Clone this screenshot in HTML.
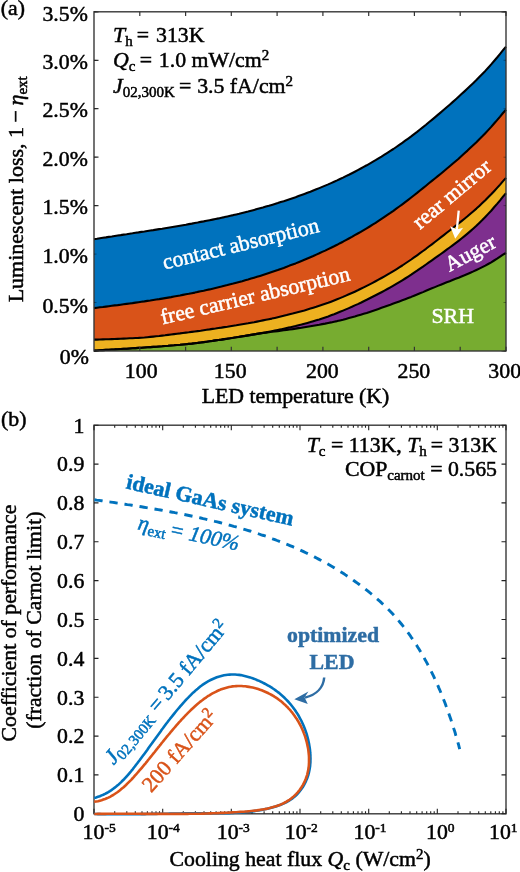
<!DOCTYPE html>
<html><head><meta charset="utf-8"><title>figure</title><style>html,body{margin:0;padding:0;background:#fff}svg{display:block}text{fill:#000;stroke:#000;stroke-width:.5px}text.w{fill:#fff;stroke:#fff}text.bl{fill:#0072BD;stroke:#0072BD}text.og{fill:#D95319;stroke:#D95319}text.sb{fill:#2E6DA4;stroke:#2E6DA4}</style></head><body>
<svg width="520" height="872" viewBox="0 0 520 872" font-family="'Liberation Serif', serif" font-size="21.8">
<rect width="520" height="872" fill="#fff"/>
<path d="M94.0,351.0h4.5 M506.0,351.0h-4.5 M94.0,302.5h4.5 M506.0,302.5h-4.5 M94.0,254.1h4.5 M506.0,254.1h-4.5 M94.0,205.6h4.5 M506.0,205.6h-4.5 M94.0,157.2h4.5 M506.0,157.2h-4.5 M94.0,108.7h4.5 M506.0,108.7h-4.5 M94.0,60.3h4.5 M506.0,60.3h-4.5 M94.0,11.8h4.5 M506.0,11.8h-4.5" stroke="#333" stroke-width="1.2" fill="none"/>
<path d="M94.0,239.2 L97.0,238.8 L99.9,238.3 L102.9,237.8 L105.9,237.4 L108.8,236.9 L111.8,236.5 L114.7,236.0 L117.7,235.5 L120.7,235.1 L123.6,234.6 L126.6,234.2 L129.6,233.7 L132.5,233.3 L135.5,232.8 L138.5,232.4 L141.4,231.9 L144.4,231.5 L147.4,231.0 L150.3,230.5 L153.3,230.1 L156.2,229.6 L159.2,229.1 L162.2,228.7 L165.1,228.2 L168.1,227.7 L171.1,227.2 L174.0,226.7 L177.0,226.2 L180.0,225.7 L182.9,225.2 L185.9,224.7 L188.8,224.1 L191.8,223.6 L194.8,223.0 L197.7,222.5 L200.7,221.9 L203.7,221.4 L206.6,220.8 L209.6,220.2 L212.6,219.6 L215.5,219.0 L218.5,218.4 L221.5,217.7 L224.4,217.1 L227.4,216.4 L230.3,215.7 L233.3,215.1 L236.3,214.4 L239.2,213.7 L242.2,212.9 L245.2,212.2 L248.1,211.5 L251.1,210.7 L254.1,209.9 L257.0,209.1 L260.0,208.3 L262.9,207.5 L265.9,206.6 L268.9,205.8 L271.8,204.9 L274.8,204.0 L277.8,203.1 L280.7,202.1 L283.7,201.2 L286.7,200.2 L289.6,199.2 L292.6,198.2 L295.6,197.2 L298.5,196.1 L301.5,195.0 L304.4,193.9 L307.4,192.8 L310.4,191.7 L313.3,190.5 L316.3,189.3 L319.3,188.1 L322.2,186.9 L325.2,185.6 L328.2,184.4 L331.1,183.1 L334.1,181.7 L337.1,180.4 L340.0,179.0 L343.0,177.6 L345.9,176.1 L348.9,174.7 L351.9,173.2 L354.8,171.7 L357.8,170.1 L360.8,168.5 L363.7,166.9 L366.7,165.3 L369.7,163.6 L372.6,161.9 L375.6,160.2 L378.5,158.4 L381.5,156.6 L384.5,154.7 L387.4,152.8 L390.4,150.9 L393.4,149.0 L396.3,147.0 L399.3,144.9 L402.3,142.8 L405.2,140.7 L408.2,138.6 L411.2,136.4 L414.1,134.1 L417.1,131.9 L420.0,129.5 L423.0,127.2 L426.0,124.8 L428.9,122.3 L431.9,119.9 L434.9,117.4 L437.8,114.9 L440.8,112.4 L443.8,109.8 L446.7,107.3 L449.7,104.7 L452.6,102.1 L455.6,99.5 L458.6,96.8 L461.5,94.1 L464.5,91.4 L467.5,88.6 L470.4,85.8 L473.4,83.0 L476.4,80.1 L479.3,77.1 L482.3,74.0 L485.3,70.9 L488.2,67.7 L491.2,64.4 L494.1,61.0 L497.1,57.5 L500.1,53.8 L503.0,50.1 L506.0,46.7 L506.0,109.7 L503.0,113.0 L500.1,116.6 L497.1,120.1 L494.1,123.5 L491.2,126.9 L488.2,130.1 L485.3,133.2 L482.3,136.3 L479.3,139.2 L476.4,142.2 L473.4,145.0 L470.4,147.8 L467.5,150.6 L464.5,153.3 L461.5,156.0 L458.6,158.7 L455.6,161.2 L452.6,163.8 L449.7,166.3 L446.7,168.8 L443.8,171.2 L440.8,173.7 L437.8,176.1 L434.9,178.5 L431.9,180.9 L428.9,183.3 L426.0,185.7 L423.0,188.1 L420.0,190.5 L417.1,192.9 L414.1,195.2 L411.2,197.5 L408.2,199.8 L405.2,202.1 L402.3,204.3 L399.3,206.5 L396.3,208.6 L393.4,210.8 L390.4,212.9 L387.4,214.9 L384.5,216.9 L381.5,218.9 L378.5,220.9 L375.6,222.8 L372.6,224.6 L369.7,226.5 L366.7,228.3 L363.7,230.1 L360.8,231.8 L357.8,233.5 L354.8,235.2 L351.9,236.9 L348.9,238.5 L345.9,240.1 L343.0,241.7 L340.0,243.2 L337.1,244.8 L334.1,246.3 L331.1,247.7 L328.2,249.1 L325.2,250.6 L322.2,251.9 L319.3,253.3 L316.3,254.6 L313.3,256.0 L310.4,257.2 L307.4,258.5 L304.4,259.8 L301.5,261.0 L298.5,262.2 L295.6,263.4 L292.6,264.5 L289.6,265.6 L286.7,266.8 L283.7,267.9 L280.7,268.9 L277.8,270.0 L274.8,271.0 L271.8,272.0 L268.9,273.0 L265.9,274.0 L262.9,275.0 L260.0,275.9 L257.0,276.8 L254.1,277.7 L251.1,278.6 L248.1,279.5 L245.2,280.3 L242.2,281.2 L239.2,282.0 L236.3,282.8 L233.3,283.6 L230.3,284.3 L227.4,285.1 L224.4,285.8 L221.5,286.6 L218.5,287.3 L215.5,288.0 L212.6,288.7 L209.6,289.4 L206.6,290.0 L203.7,290.7 L200.7,291.3 L197.7,291.9 L194.8,292.6 L191.8,293.2 L188.8,293.8 L185.9,294.3 L182.9,294.9 L180.0,295.5 L177.0,296.0 L174.0,296.5 L171.1,297.1 L168.1,297.6 L165.1,298.1 L162.2,298.6 L159.2,299.1 L156.2,299.5 L153.3,300.0 L150.3,300.5 L147.4,300.9 L144.4,301.4 L141.4,301.8 L138.5,302.2 L135.5,302.6 L132.5,303.1 L129.6,303.5 L126.6,303.9 L123.6,304.3 L120.7,304.7 L117.7,305.1 L114.7,305.4 L111.8,305.8 L108.8,306.2 L105.9,306.6 L102.9,307.0 L99.9,307.3 L97.0,307.7 L94.0,308.1Z" fill="#0072BD"/>
<path d="M94.0,308.1 L97.0,307.7 L99.9,307.3 L102.9,307.0 L105.9,306.6 L108.8,306.2 L111.8,305.8 L114.7,305.4 L117.7,305.1 L120.7,304.7 L123.6,304.3 L126.6,303.9 L129.6,303.5 L132.5,303.1 L135.5,302.6 L138.5,302.2 L141.4,301.8 L144.4,301.4 L147.4,300.9 L150.3,300.5 L153.3,300.0 L156.2,299.5 L159.2,299.1 L162.2,298.6 L165.1,298.1 L168.1,297.6 L171.1,297.1 L174.0,296.5 L177.0,296.0 L180.0,295.5 L182.9,294.9 L185.9,294.3 L188.8,293.8 L191.8,293.2 L194.8,292.6 L197.7,291.9 L200.7,291.3 L203.7,290.7 L206.6,290.0 L209.6,289.4 L212.6,288.7 L215.5,288.0 L218.5,287.3 L221.5,286.6 L224.4,285.8 L227.4,285.1 L230.3,284.3 L233.3,283.6 L236.3,282.8 L239.2,282.0 L242.2,281.2 L245.2,280.3 L248.1,279.5 L251.1,278.6 L254.1,277.7 L257.0,276.8 L260.0,275.9 L262.9,275.0 L265.9,274.0 L268.9,273.0 L271.8,272.0 L274.8,271.0 L277.8,270.0 L280.7,268.9 L283.7,267.9 L286.7,266.8 L289.6,265.6 L292.6,264.5 L295.6,263.4 L298.5,262.2 L301.5,261.0 L304.4,259.8 L307.4,258.5 L310.4,257.2 L313.3,256.0 L316.3,254.6 L319.3,253.3 L322.2,251.9 L325.2,250.6 L328.2,249.1 L331.1,247.7 L334.1,246.3 L337.1,244.8 L340.0,243.2 L343.0,241.7 L345.9,240.1 L348.9,238.5 L351.9,236.9 L354.8,235.2 L357.8,233.5 L360.8,231.8 L363.7,230.1 L366.7,228.3 L369.7,226.5 L372.6,224.6 L375.6,222.8 L378.5,220.9 L381.5,218.9 L384.5,216.9 L387.4,214.9 L390.4,212.9 L393.4,210.8 L396.3,208.6 L399.3,206.5 L402.3,204.3 L405.2,202.1 L408.2,199.8 L411.2,197.5 L414.1,195.2 L417.1,192.9 L420.0,190.5 L423.0,188.1 L426.0,185.7 L428.9,183.3 L431.9,180.9 L434.9,178.5 L437.8,176.1 L440.8,173.7 L443.8,171.2 L446.7,168.8 L449.7,166.3 L452.6,163.8 L455.6,161.2 L458.6,158.7 L461.5,156.0 L464.5,153.3 L467.5,150.6 L470.4,147.8 L473.4,145.0 L476.4,142.2 L479.3,139.2 L482.3,136.3 L485.3,133.2 L488.2,130.1 L491.2,126.9 L494.1,123.5 L497.1,120.1 L500.1,116.6 L503.0,113.0 L506.0,109.7 L506.0,177.9 L503.0,181.1 L500.1,184.6 L497.1,187.9 L494.1,191.2 L491.2,194.3 L488.2,197.3 L485.3,200.3 L482.3,203.1 L479.3,205.9 L476.4,208.6 L473.4,211.2 L470.4,213.8 L467.5,216.3 L464.5,218.7 L461.5,221.1 L458.6,223.5 L455.6,225.8 L452.6,228.2 L449.7,230.5 L446.7,232.8 L443.8,235.1 L440.8,237.4 L437.8,239.7 L434.9,242.0 L431.9,244.3 L428.9,246.5 L426.0,248.8 L423.0,251.0 L420.0,253.2 L417.1,255.3 L414.1,257.4 L411.2,259.5 L408.2,261.5 L405.2,263.5 L402.3,265.5 L399.3,267.4 L396.3,269.3 L393.4,271.1 L390.4,272.9 L387.4,274.6 L384.5,276.3 L381.5,278.0 L378.5,279.7 L375.6,281.3 L372.6,282.9 L369.7,284.4 L366.7,285.9 L363.7,287.4 L360.8,288.8 L357.8,290.3 L354.8,291.7 L351.9,293.0 L348.9,294.3 L345.9,295.6 L343.0,296.9 L340.0,298.1 L337.1,299.3 L334.1,300.5 L331.1,301.7 L328.2,302.8 L325.2,303.8 L322.2,304.8 L319.3,305.8 L316.3,306.8 L313.3,307.7 L310.4,308.6 L307.4,309.5 L304.4,310.4 L301.5,311.2 L298.5,312.0 L295.6,312.8 L292.6,313.6 L289.6,314.3 L286.7,315.1 L283.7,315.8 L280.7,316.5 L277.8,317.2 L274.8,317.9 L271.8,318.6 L268.9,319.2 L265.9,319.8 L262.9,320.4 L260.0,321.0 L257.0,321.6 L254.1,322.2 L251.1,322.7 L248.1,323.3 L245.2,323.8 L242.2,324.3 L239.2,324.8 L236.3,325.3 L233.3,325.7 L230.3,326.2 L227.4,326.7 L224.4,327.1 L221.5,327.6 L218.5,328.0 L215.5,328.5 L212.6,328.9 L209.6,329.4 L206.6,329.8 L203.7,330.2 L200.7,330.7 L197.7,331.1 L194.8,331.5 L191.8,331.9 L188.8,332.3 L185.9,332.6 L182.9,333.0 L180.0,333.4 L177.0,333.7 L174.0,334.1 L171.1,334.5 L168.1,334.9 L165.1,335.3 L162.2,335.6 L159.2,336.0 L156.2,336.3 L153.3,336.6 L150.3,336.9 L147.4,337.2 L144.4,337.5 L141.4,337.7 L138.5,337.9 L135.5,338.0 L132.5,338.2 L129.6,338.3 L126.6,338.5 L123.6,338.6 L120.7,338.8 L117.7,338.9 L114.7,339.0 L111.8,339.1 L108.8,339.2 L105.9,339.3 L102.9,339.4 L99.9,339.5 L97.0,339.6 L94.0,339.6Z" fill="#D95319"/>
<path d="M94.0,339.6 L97.0,339.6 L99.9,339.5 L102.9,339.4 L105.9,339.3 L108.8,339.2 L111.8,339.1 L114.7,339.0 L117.7,338.9 L120.7,338.8 L123.6,338.6 L126.6,338.5 L129.6,338.3 L132.5,338.2 L135.5,338.0 L138.5,337.9 L141.4,337.7 L144.4,337.5 L147.4,337.2 L150.3,336.9 L153.3,336.6 L156.2,336.3 L159.2,336.0 L162.2,335.6 L165.1,335.3 L168.1,334.9 L171.1,334.5 L174.0,334.1 L177.0,333.7 L180.0,333.4 L182.9,333.0 L185.9,332.6 L188.8,332.3 L191.8,331.9 L194.8,331.5 L197.7,331.1 L200.7,330.7 L203.7,330.2 L206.6,329.8 L209.6,329.4 L212.6,328.9 L215.5,328.5 L218.5,328.0 L221.5,327.6 L224.4,327.1 L227.4,326.7 L230.3,326.2 L233.3,325.7 L236.3,325.3 L239.2,324.8 L242.2,324.3 L245.2,323.8 L248.1,323.3 L251.1,322.7 L254.1,322.2 L257.0,321.6 L260.0,321.0 L262.9,320.4 L265.9,319.8 L268.9,319.2 L271.8,318.6 L274.8,317.9 L277.8,317.2 L280.7,316.5 L283.7,315.8 L286.7,315.1 L289.6,314.3 L292.6,313.6 L295.6,312.8 L298.5,312.0 L301.5,311.2 L304.4,310.4 L307.4,309.5 L310.4,308.6 L313.3,307.7 L316.3,306.8 L319.3,305.8 L322.2,304.8 L325.2,303.8 L328.2,302.8 L331.1,301.7 L334.1,300.5 L337.1,299.3 L340.0,298.1 L343.0,296.9 L345.9,295.6 L348.9,294.3 L351.9,293.0 L354.8,291.7 L357.8,290.3 L360.8,288.8 L363.7,287.4 L366.7,285.9 L369.7,284.4 L372.6,282.9 L375.6,281.3 L378.5,279.7 L381.5,278.0 L384.5,276.3 L387.4,274.6 L390.4,272.9 L393.4,271.1 L396.3,269.3 L399.3,267.4 L402.3,265.5 L405.2,263.5 L408.2,261.5 L411.2,259.5 L414.1,257.4 L417.1,255.3 L420.0,253.2 L423.0,251.0 L426.0,248.8 L428.9,246.5 L431.9,244.3 L434.9,242.0 L437.8,239.7 L440.8,237.4 L443.8,235.1 L446.7,232.8 L449.7,230.5 L452.6,228.2 L455.6,225.8 L458.6,223.5 L461.5,221.1 L464.5,218.7 L467.5,216.3 L470.4,213.8 L473.4,211.2 L476.4,208.6 L479.3,205.9 L482.3,203.1 L485.3,200.3 L488.2,197.3 L491.2,194.3 L494.1,191.2 L497.1,187.9 L500.1,184.6 L503.0,181.1 L506.0,177.9 L506.0,193.2 L503.0,196.6 L500.1,200.3 L497.1,203.9 L494.1,207.3 L491.2,210.7 L488.2,213.9 L485.3,217.0 L482.3,220.1 L479.3,223.0 L476.4,225.8 L473.4,228.5 L470.4,231.1 L467.5,233.6 L464.5,236.1 L461.5,238.5 L458.6,240.8 L455.6,243.1 L452.6,245.3 L449.7,247.5 L446.7,249.7 L443.8,251.8 L440.8,254.0 L437.8,256.1 L434.9,258.2 L431.9,260.3 L428.9,262.4 L426.0,264.5 L423.0,266.6 L420.0,268.6 L417.1,270.7 L414.1,272.7 L411.2,274.7 L408.2,276.6 L405.2,278.5 L402.3,280.3 L399.3,282.1 L396.3,283.9 L393.4,285.6 L390.4,287.3 L387.4,289.0 L384.5,290.6 L381.5,292.2 L378.5,293.8 L375.6,295.3 L372.6,296.8 L369.7,298.3 L366.7,299.8 L363.7,301.2 L360.8,302.7 L357.8,304.1 L354.8,305.4 L351.9,306.8 L348.9,308.1 L345.9,309.4 L343.0,310.6 L340.0,311.8 L337.1,313.0 L334.1,314.2 L331.1,315.3 L328.2,316.4 L325.2,317.4 L322.2,318.4 L319.3,319.4 L316.3,320.3 L313.3,321.2 L310.4,322.1 L307.4,322.9 L304.4,323.7 L301.5,324.5 L298.5,325.2 L295.6,326.0 L292.6,326.7 L289.6,327.4 L286.7,328.0 L283.7,328.7 L280.7,329.4 L277.8,330.0 L274.8,330.6 L271.8,331.2 L268.9,331.8 L265.9,332.4 L262.9,332.9 L260.0,333.4 L257.0,333.9 L254.1,334.4 L251.1,334.9 L248.1,335.4 L245.2,335.9 L242.2,336.3 L239.2,336.8 L236.3,337.3 L233.3,337.7 L230.3,338.2 L227.4,338.6 L224.4,339.1 L221.5,339.6 L218.5,340.0 L215.5,340.4 L212.6,340.9 L209.6,341.3 L206.6,341.7 L203.7,342.1 L200.7,342.5 L197.7,342.9 L194.8,343.2 L191.8,343.6 L188.8,343.9 L185.9,344.2 L182.9,344.5 L180.0,344.8 L177.0,345.0 L174.0,345.3 L171.1,345.5 L168.1,345.8 L165.1,346.0 L162.2,346.3 L159.2,346.5 L156.2,346.7 L153.3,346.9 L150.3,347.1 L147.4,347.3 L144.4,347.5 L141.4,347.7 L138.5,347.9 L135.5,348.1 L132.5,348.3 L129.6,348.5 L126.6,348.7 L123.6,348.8 L120.7,349.0 L117.7,349.2 L114.7,349.4 L111.8,349.5 L108.8,349.7 L105.9,349.9 L102.9,350.1 L99.9,350.3 L97.0,350.5 L94.0,350.6Z" fill="#EDB120"/>
<path d="M94.0,350.6 L97.0,350.5 L99.9,350.3 L102.9,350.1 L105.9,349.9 L108.8,349.7 L111.8,349.5 L114.7,349.4 L117.7,349.2 L120.7,349.0 L123.6,348.8 L126.6,348.7 L129.6,348.5 L132.5,348.3 L135.5,348.1 L138.5,347.9 L141.4,347.7 L144.4,347.5 L147.4,347.3 L150.3,347.1 L153.3,346.9 L156.2,346.7 L159.2,346.5 L162.2,346.3 L165.1,346.0 L168.1,345.8 L171.1,345.5 L174.0,345.3 L177.0,345.0 L180.0,344.8 L182.9,344.5 L185.9,344.2 L188.8,343.9 L191.8,343.6 L194.8,343.2 L197.7,342.9 L200.7,342.5 L203.7,342.1 L206.6,341.7 L209.6,341.3 L212.6,340.9 L215.5,340.4 L218.5,340.0 L221.5,339.6 L224.4,339.1 L227.4,338.6 L230.3,338.2 L233.3,337.7 L236.3,337.3 L239.2,336.8 L242.2,336.3 L245.2,335.9 L248.1,335.4 L251.1,334.9 L254.1,334.4 L257.0,333.9 L260.0,333.4 L262.9,332.9 L265.9,332.4 L268.9,331.8 L271.8,331.2 L274.8,330.6 L277.8,330.0 L280.7,329.4 L283.7,328.7 L286.7,328.0 L289.6,327.4 L292.6,326.7 L295.6,326.0 L298.5,325.2 L301.5,324.5 L304.4,323.7 L307.4,322.9 L310.4,322.1 L313.3,321.2 L316.3,320.3 L319.3,319.4 L322.2,318.4 L325.2,317.4 L328.2,316.4 L331.1,315.3 L334.1,314.2 L337.1,313.0 L340.0,311.8 L343.0,310.6 L345.9,309.4 L348.9,308.1 L351.9,306.8 L354.8,305.4 L357.8,304.1 L360.8,302.7 L363.7,301.2 L366.7,299.8 L369.7,298.3 L372.6,296.8 L375.6,295.3 L378.5,293.8 L381.5,292.2 L384.5,290.6 L387.4,289.0 L390.4,287.3 L393.4,285.6 L396.3,283.9 L399.3,282.1 L402.3,280.3 L405.2,278.5 L408.2,276.6 L411.2,274.7 L414.1,272.7 L417.1,270.7 L420.0,268.6 L423.0,266.6 L426.0,264.5 L428.9,262.4 L431.9,260.3 L434.9,258.2 L437.8,256.1 L440.8,254.0 L443.8,251.8 L446.7,249.7 L449.7,247.5 L452.6,245.3 L455.6,243.1 L458.6,240.8 L461.5,238.5 L464.5,236.1 L467.5,233.6 L470.4,231.1 L473.4,228.5 L476.4,225.8 L479.3,223.0 L482.3,220.1 L485.3,217.0 L488.2,213.9 L491.2,210.7 L494.1,207.3 L497.1,203.9 L500.1,200.3 L503.0,196.6 L506.0,193.2 L506.0,252.8 L503.0,254.7 L500.1,256.7 L497.1,258.7 L494.1,260.5 L491.2,262.3 L488.2,264.0 L485.3,265.6 L482.3,267.1 L479.3,268.6 L476.4,270.0 L473.4,271.4 L470.4,272.7 L467.5,274.0 L464.5,275.3 L461.5,276.5 L458.6,277.7 L455.6,278.8 L452.6,280.0 L449.7,281.2 L446.7,282.3 L443.8,283.5 L440.8,284.7 L437.8,285.9 L434.9,287.1 L431.9,288.3 L428.9,289.5 L426.0,290.8 L423.0,292.1 L420.0,293.3 L417.1,294.5 L414.1,295.7 L411.2,296.9 L408.2,298.0 L405.2,299.2 L402.3,300.3 L399.3,301.4 L396.3,302.5 L393.4,303.6 L390.4,304.7 L387.4,305.7 L384.5,306.8 L381.5,307.8 L378.5,308.9 L375.6,309.9 L372.6,310.9 L369.7,311.9 L366.7,312.9 L363.7,313.8 L360.8,314.7 L357.8,315.6 L354.8,316.5 L351.9,317.3 L348.9,318.1 L345.9,318.9 L343.0,319.7 L340.0,320.4 L337.1,321.1 L334.1,321.7 L331.1,322.4 L328.2,323.0 L325.2,323.6 L322.2,324.1 L319.3,324.7 L316.3,325.2 L313.3,325.7 L310.4,326.2 L307.4,326.7 L304.4,327.2 L301.5,327.7 L298.5,328.1 L295.6,328.6 L292.6,329.1 L289.6,329.5 L286.7,329.9 L283.7,330.3 L280.7,330.7 L277.8,331.1 L274.8,331.5 L271.8,331.8 L268.9,332.2 L265.9,332.6 L262.9,333.0 L260.0,333.4 L257.0,333.9 L254.1,334.4 L251.1,334.9 L248.1,335.4 L245.2,335.9 L242.2,336.4 L239.2,336.9 L236.3,337.3 L233.3,337.8 L230.3,338.2 L227.4,338.7 L224.4,339.1 L221.5,339.6 L218.5,340.0 L215.5,340.4 L212.6,340.9 L209.6,341.3 L206.6,341.7 L203.7,342.1 L200.7,342.5 L197.7,342.9 L194.8,343.2 L191.8,343.6 L188.8,343.9 L185.9,344.2 L182.9,344.5 L180.0,344.8 L177.0,345.0 L174.0,345.3 L171.1,345.5 L168.1,345.8 L165.1,346.0 L162.2,346.3 L159.2,346.5 L156.2,346.7 L153.3,346.9 L150.3,347.1 L147.4,347.3 L144.4,347.5 L141.4,347.7 L138.5,347.9 L135.5,348.1 L132.5,348.3 L129.6,348.5 L126.6,348.7 L123.6,348.8 L120.7,349.0 L117.7,349.2 L114.7,349.4 L111.8,349.5 L108.8,349.7 L105.9,349.9 L102.9,350.1 L99.9,350.3 L97.0,350.5 L94.0,350.6Z" fill="#7E2F8E"/>
<path d="M94.0,350.6 L97.0,350.5 L99.9,350.3 L102.9,350.1 L105.9,349.9 L108.8,349.7 L111.8,349.5 L114.7,349.4 L117.7,349.2 L120.7,349.0 L123.6,348.8 L126.6,348.7 L129.6,348.5 L132.5,348.3 L135.5,348.1 L138.5,347.9 L141.4,347.7 L144.4,347.5 L147.4,347.3 L150.3,347.1 L153.3,346.9 L156.2,346.7 L159.2,346.5 L162.2,346.3 L165.1,346.0 L168.1,345.8 L171.1,345.5 L174.0,345.3 L177.0,345.0 L180.0,344.8 L182.9,344.5 L185.9,344.2 L188.8,343.9 L191.8,343.6 L194.8,343.2 L197.7,342.9 L200.7,342.5 L203.7,342.1 L206.6,341.7 L209.6,341.3 L212.6,340.9 L215.5,340.4 L218.5,340.0 L221.5,339.6 L224.4,339.1 L227.4,338.7 L230.3,338.2 L233.3,337.8 L236.3,337.3 L239.2,336.9 L242.2,336.4 L245.2,335.9 L248.1,335.4 L251.1,334.9 L254.1,334.4 L257.0,333.9 L260.0,333.4 L262.9,333.0 L265.9,332.6 L268.9,332.2 L271.8,331.8 L274.8,331.5 L277.8,331.1 L280.7,330.7 L283.7,330.3 L286.7,329.9 L289.6,329.5 L292.6,329.1 L295.6,328.6 L298.5,328.1 L301.5,327.7 L304.4,327.2 L307.4,326.7 L310.4,326.2 L313.3,325.7 L316.3,325.2 L319.3,324.7 L322.2,324.1 L325.2,323.6 L328.2,323.0 L331.1,322.4 L334.1,321.7 L337.1,321.1 L340.0,320.4 L343.0,319.7 L345.9,318.9 L348.9,318.1 L351.9,317.3 L354.8,316.5 L357.8,315.6 L360.8,314.7 L363.7,313.8 L366.7,312.9 L369.7,311.9 L372.6,310.9 L375.6,309.9 L378.5,308.9 L381.5,307.8 L384.5,306.8 L387.4,305.7 L390.4,304.7 L393.4,303.6 L396.3,302.5 L399.3,301.4 L402.3,300.3 L405.2,299.2 L408.2,298.0 L411.2,296.9 L414.1,295.7 L417.1,294.5 L420.0,293.3 L423.0,292.1 L426.0,290.8 L428.9,289.5 L431.9,288.3 L434.9,287.1 L437.8,285.9 L440.8,284.7 L443.8,283.5 L446.7,282.3 L449.7,281.2 L452.6,280.0 L455.6,278.8 L458.6,277.7 L461.5,276.5 L464.5,275.3 L467.5,274.0 L470.4,272.7 L473.4,271.4 L476.4,270.0 L479.3,268.6 L482.3,267.1 L485.3,265.6 L488.2,264.0 L491.2,262.3 L494.1,260.5 L497.1,258.7 L500.1,256.7 L503.0,254.7 L506.0,252.8 L506.0,351.0 L503.0,351.0 L500.1,351.0 L497.1,351.0 L494.1,351.0 L491.2,351.0 L488.2,351.0 L485.3,351.0 L482.3,351.0 L479.3,351.0 L476.4,351.0 L473.4,351.0 L470.4,351.0 L467.5,351.0 L464.5,351.0 L461.5,351.0 L458.6,351.0 L455.6,351.0 L452.6,351.0 L449.7,351.0 L446.7,351.0 L443.8,351.0 L440.8,351.0 L437.8,351.0 L434.9,351.0 L431.9,351.0 L428.9,351.0 L426.0,351.0 L423.0,351.0 L420.0,351.0 L417.1,351.0 L414.1,351.0 L411.2,351.0 L408.2,351.0 L405.2,351.0 L402.3,351.0 L399.3,351.0 L396.3,351.0 L393.4,351.0 L390.4,351.0 L387.4,351.0 L384.5,351.0 L381.5,351.0 L378.5,351.0 L375.6,351.0 L372.6,351.0 L369.7,351.0 L366.7,351.0 L363.7,351.0 L360.8,351.0 L357.8,351.0 L354.8,351.0 L351.9,351.0 L348.9,351.0 L345.9,351.0 L343.0,351.0 L340.0,351.0 L337.1,351.0 L334.1,351.0 L331.1,351.0 L328.2,351.0 L325.2,351.0 L322.2,351.0 L319.3,351.0 L316.3,351.0 L313.3,351.0 L310.4,351.0 L307.4,351.0 L304.4,351.0 L301.5,351.0 L298.5,351.0 L295.6,351.0 L292.6,351.0 L289.6,351.0 L286.7,351.0 L283.7,351.0 L280.7,351.0 L277.8,351.0 L274.8,351.0 L271.8,351.0 L268.9,351.0 L265.9,351.0 L262.9,351.0 L260.0,351.0 L257.0,351.0 L254.1,351.0 L251.1,351.0 L248.1,351.0 L245.2,351.0 L242.2,351.0 L239.2,351.0 L236.3,351.0 L233.3,351.0 L230.3,351.0 L227.4,351.0 L224.4,351.0 L221.5,351.0 L218.5,351.0 L215.5,351.0 L212.6,351.0 L209.6,351.0 L206.6,351.0 L203.7,351.0 L200.7,351.0 L197.7,351.0 L194.8,351.0 L191.8,351.0 L188.8,351.0 L185.9,351.0 L182.9,351.0 L180.0,351.0 L177.0,351.0 L174.0,351.0 L171.1,351.0 L168.1,351.0 L165.1,351.0 L162.2,351.0 L159.2,351.0 L156.2,351.0 L153.3,351.0 L150.3,351.0 L147.4,351.0 L144.4,351.0 L141.4,351.0 L138.5,351.0 L135.5,351.0 L132.5,351.0 L129.6,351.0 L126.6,351.0 L123.6,351.0 L120.7,351.0 L117.7,351.0 L114.7,351.0 L111.8,351.0 L108.8,351.0 L105.9,351.0 L102.9,351.0 L99.9,351.0 L97.0,351.0 L94.0,351.0Z" fill="#77AC30"/>
<path d="M94.0,239.2 L97.0,238.8 L99.9,238.3 L102.9,237.8 L105.9,237.4 L108.8,236.9 L111.8,236.5 L114.7,236.0 L117.7,235.5 L120.7,235.1 L123.6,234.6 L126.6,234.2 L129.6,233.7 L132.5,233.3 L135.5,232.8 L138.5,232.4 L141.4,231.9 L144.4,231.5 L147.4,231.0 L150.3,230.5 L153.3,230.1 L156.2,229.6 L159.2,229.1 L162.2,228.7 L165.1,228.2 L168.1,227.7 L171.1,227.2 L174.0,226.7 L177.0,226.2 L180.0,225.7 L182.9,225.2 L185.9,224.7 L188.8,224.1 L191.8,223.6 L194.8,223.0 L197.7,222.5 L200.7,221.9 L203.7,221.4 L206.6,220.8 L209.6,220.2 L212.6,219.6 L215.5,219.0 L218.5,218.4 L221.5,217.7 L224.4,217.1 L227.4,216.4 L230.3,215.7 L233.3,215.1 L236.3,214.4 L239.2,213.7 L242.2,212.9 L245.2,212.2 L248.1,211.5 L251.1,210.7 L254.1,209.9 L257.0,209.1 L260.0,208.3 L262.9,207.5 L265.9,206.6 L268.9,205.8 L271.8,204.9 L274.8,204.0 L277.8,203.1 L280.7,202.1 L283.7,201.2 L286.7,200.2 L289.6,199.2 L292.6,198.2 L295.6,197.2 L298.5,196.1 L301.5,195.0 L304.4,193.9 L307.4,192.8 L310.4,191.7 L313.3,190.5 L316.3,189.3 L319.3,188.1 L322.2,186.9 L325.2,185.6 L328.2,184.4 L331.1,183.1 L334.1,181.7 L337.1,180.4 L340.0,179.0 L343.0,177.6 L345.9,176.1 L348.9,174.7 L351.9,173.2 L354.8,171.7 L357.8,170.1 L360.8,168.5 L363.7,166.9 L366.7,165.3 L369.7,163.6 L372.6,161.9 L375.6,160.2 L378.5,158.4 L381.5,156.6 L384.5,154.7 L387.4,152.8 L390.4,150.9 L393.4,149.0 L396.3,147.0 L399.3,144.9 L402.3,142.8 L405.2,140.7 L408.2,138.6 L411.2,136.4 L414.1,134.1 L417.1,131.9 L420.0,129.5 L423.0,127.2 L426.0,124.8 L428.9,122.3 L431.9,119.9 L434.9,117.4 L437.8,114.9 L440.8,112.4 L443.8,109.8 L446.7,107.3 L449.7,104.7 L452.6,102.1 L455.6,99.5 L458.6,96.8 L461.5,94.1 L464.5,91.4 L467.5,88.6 L470.4,85.8 L473.4,83.0 L476.4,80.1 L479.3,77.1 L482.3,74.0 L485.3,70.9 L488.2,67.7 L491.2,64.4 L494.1,61.0 L497.1,57.5 L500.1,53.8 L503.0,50.1 L506.0,46.7" fill="none" stroke="#000" stroke-width="2.1" stroke-linejoin="round"/>
<path d="M94.0,308.1 L97.0,307.7 L99.9,307.3 L102.9,307.0 L105.9,306.6 L108.8,306.2 L111.8,305.8 L114.7,305.4 L117.7,305.1 L120.7,304.7 L123.6,304.3 L126.6,303.9 L129.6,303.5 L132.5,303.1 L135.5,302.6 L138.5,302.2 L141.4,301.8 L144.4,301.4 L147.4,300.9 L150.3,300.5 L153.3,300.0 L156.2,299.5 L159.2,299.1 L162.2,298.6 L165.1,298.1 L168.1,297.6 L171.1,297.1 L174.0,296.5 L177.0,296.0 L180.0,295.5 L182.9,294.9 L185.9,294.3 L188.8,293.8 L191.8,293.2 L194.8,292.6 L197.7,291.9 L200.7,291.3 L203.7,290.7 L206.6,290.0 L209.6,289.4 L212.6,288.7 L215.5,288.0 L218.5,287.3 L221.5,286.6 L224.4,285.8 L227.4,285.1 L230.3,284.3 L233.3,283.6 L236.3,282.8 L239.2,282.0 L242.2,281.2 L245.2,280.3 L248.1,279.5 L251.1,278.6 L254.1,277.7 L257.0,276.8 L260.0,275.9 L262.9,275.0 L265.9,274.0 L268.9,273.0 L271.8,272.0 L274.8,271.0 L277.8,270.0 L280.7,268.9 L283.7,267.9 L286.7,266.8 L289.6,265.6 L292.6,264.5 L295.6,263.4 L298.5,262.2 L301.5,261.0 L304.4,259.8 L307.4,258.5 L310.4,257.2 L313.3,256.0 L316.3,254.6 L319.3,253.3 L322.2,251.9 L325.2,250.6 L328.2,249.1 L331.1,247.7 L334.1,246.3 L337.1,244.8 L340.0,243.2 L343.0,241.7 L345.9,240.1 L348.9,238.5 L351.9,236.9 L354.8,235.2 L357.8,233.5 L360.8,231.8 L363.7,230.1 L366.7,228.3 L369.7,226.5 L372.6,224.6 L375.6,222.8 L378.5,220.9 L381.5,218.9 L384.5,216.9 L387.4,214.9 L390.4,212.9 L393.4,210.8 L396.3,208.6 L399.3,206.5 L402.3,204.3 L405.2,202.1 L408.2,199.8 L411.2,197.5 L414.1,195.2 L417.1,192.9 L420.0,190.5 L423.0,188.1 L426.0,185.7 L428.9,183.3 L431.9,180.9 L434.9,178.5 L437.8,176.1 L440.8,173.7 L443.8,171.2 L446.7,168.8 L449.7,166.3 L452.6,163.8 L455.6,161.2 L458.6,158.7 L461.5,156.0 L464.5,153.3 L467.5,150.6 L470.4,147.8 L473.4,145.0 L476.4,142.2 L479.3,139.2 L482.3,136.3 L485.3,133.2 L488.2,130.1 L491.2,126.9 L494.1,123.5 L497.1,120.1 L500.1,116.6 L503.0,113.0 L506.0,109.7" fill="none" stroke="#000" stroke-width="2.1" stroke-linejoin="round"/>
<path d="M94.0,339.6 L97.0,339.6 L99.9,339.5 L102.9,339.4 L105.9,339.3 L108.8,339.2 L111.8,339.1 L114.7,339.0 L117.7,338.9 L120.7,338.8 L123.6,338.6 L126.6,338.5 L129.6,338.3 L132.5,338.2 L135.5,338.0 L138.5,337.9 L141.4,337.7 L144.4,337.5 L147.4,337.2 L150.3,336.9 L153.3,336.6 L156.2,336.3 L159.2,336.0 L162.2,335.6 L165.1,335.3 L168.1,334.9 L171.1,334.5 L174.0,334.1 L177.0,333.7 L180.0,333.4 L182.9,333.0 L185.9,332.6 L188.8,332.3 L191.8,331.9 L194.8,331.5 L197.7,331.1 L200.7,330.7 L203.7,330.2 L206.6,329.8 L209.6,329.4 L212.6,328.9 L215.5,328.5 L218.5,328.0 L221.5,327.6 L224.4,327.1 L227.4,326.7 L230.3,326.2 L233.3,325.7 L236.3,325.3 L239.2,324.8 L242.2,324.3 L245.2,323.8 L248.1,323.3 L251.1,322.7 L254.1,322.2 L257.0,321.6 L260.0,321.0 L262.9,320.4 L265.9,319.8 L268.9,319.2 L271.8,318.6 L274.8,317.9 L277.8,317.2 L280.7,316.5 L283.7,315.8 L286.7,315.1 L289.6,314.3 L292.6,313.6 L295.6,312.8 L298.5,312.0 L301.5,311.2 L304.4,310.4 L307.4,309.5 L310.4,308.6 L313.3,307.7 L316.3,306.8 L319.3,305.8 L322.2,304.8 L325.2,303.8 L328.2,302.8 L331.1,301.7 L334.1,300.5 L337.1,299.3 L340.0,298.1 L343.0,296.9 L345.9,295.6 L348.9,294.3 L351.9,293.0 L354.8,291.7 L357.8,290.3 L360.8,288.8 L363.7,287.4 L366.7,285.9 L369.7,284.4 L372.6,282.9 L375.6,281.3 L378.5,279.7 L381.5,278.0 L384.5,276.3 L387.4,274.6 L390.4,272.9 L393.4,271.1 L396.3,269.3 L399.3,267.4 L402.3,265.5 L405.2,263.5 L408.2,261.5 L411.2,259.5 L414.1,257.4 L417.1,255.3 L420.0,253.2 L423.0,251.0 L426.0,248.8 L428.9,246.5 L431.9,244.3 L434.9,242.0 L437.8,239.7 L440.8,237.4 L443.8,235.1 L446.7,232.8 L449.7,230.5 L452.6,228.2 L455.6,225.8 L458.6,223.5 L461.5,221.1 L464.5,218.7 L467.5,216.3 L470.4,213.8 L473.4,211.2 L476.4,208.6 L479.3,205.9 L482.3,203.1 L485.3,200.3 L488.2,197.3 L491.2,194.3 L494.1,191.2 L497.1,187.9 L500.1,184.6 L503.0,181.1 L506.0,177.9" fill="none" stroke="#000" stroke-width="2.1" stroke-linejoin="round"/>
<path d="M94.0,350.6 L97.0,350.5 L99.9,350.3 L102.9,350.1 L105.9,349.9 L108.8,349.7 L111.8,349.5 L114.7,349.4 L117.7,349.2 L120.7,349.0 L123.6,348.8 L126.6,348.7 L129.6,348.5 L132.5,348.3 L135.5,348.1 L138.5,347.9 L141.4,347.7 L144.4,347.5 L147.4,347.3 L150.3,347.1 L153.3,346.9 L156.2,346.7 L159.2,346.5 L162.2,346.3 L165.1,346.0 L168.1,345.8 L171.1,345.5 L174.0,345.3 L177.0,345.0 L180.0,344.8 L182.9,344.5 L185.9,344.2 L188.8,343.9 L191.8,343.6 L194.8,343.2 L197.7,342.9 L200.7,342.5 L203.7,342.1 L206.6,341.7 L209.6,341.3 L212.6,340.9 L215.5,340.4 L218.5,340.0 L221.5,339.6 L224.4,339.1 L227.4,338.6 L230.3,338.2 L233.3,337.7 L236.3,337.3 L239.2,336.8 L242.2,336.3 L245.2,335.9 L248.1,335.4 L251.1,334.9 L254.1,334.4 L257.0,333.9 L260.0,333.4 L262.9,332.9 L265.9,332.4 L268.9,331.8 L271.8,331.2 L274.8,330.6 L277.8,330.0 L280.7,329.4 L283.7,328.7 L286.7,328.0 L289.6,327.4 L292.6,326.7 L295.6,326.0 L298.5,325.2 L301.5,324.5 L304.4,323.7 L307.4,322.9 L310.4,322.1 L313.3,321.2 L316.3,320.3 L319.3,319.4 L322.2,318.4 L325.2,317.4 L328.2,316.4 L331.1,315.3 L334.1,314.2 L337.1,313.0 L340.0,311.8 L343.0,310.6 L345.9,309.4 L348.9,308.1 L351.9,306.8 L354.8,305.4 L357.8,304.1 L360.8,302.7 L363.7,301.2 L366.7,299.8 L369.7,298.3 L372.6,296.8 L375.6,295.3 L378.5,293.8 L381.5,292.2 L384.5,290.6 L387.4,289.0 L390.4,287.3 L393.4,285.6 L396.3,283.9 L399.3,282.1 L402.3,280.3 L405.2,278.5 L408.2,276.6 L411.2,274.7 L414.1,272.7 L417.1,270.7 L420.0,268.6 L423.0,266.6 L426.0,264.5 L428.9,262.4 L431.9,260.3 L434.9,258.2 L437.8,256.1 L440.8,254.0 L443.8,251.8 L446.7,249.7 L449.7,247.5 L452.6,245.3 L455.6,243.1 L458.6,240.8 L461.5,238.5 L464.5,236.1 L467.5,233.6 L470.4,231.1 L473.4,228.5 L476.4,225.8 L479.3,223.0 L482.3,220.1 L485.3,217.0 L488.2,213.9 L491.2,210.7 L494.1,207.3 L497.1,203.9 L500.1,200.3 L503.0,196.6 L506.0,193.2" fill="none" stroke="#000" stroke-width="2.1" stroke-linejoin="round"/>
<path d="M94.0,350.6 L97.0,350.5 L99.9,350.3 L102.9,350.1 L105.9,349.9 L108.8,349.7 L111.8,349.5 L114.7,349.4 L117.7,349.2 L120.7,349.0 L123.6,348.8 L126.6,348.7 L129.6,348.5 L132.5,348.3 L135.5,348.1 L138.5,347.9 L141.4,347.7 L144.4,347.5 L147.4,347.3 L150.3,347.1 L153.3,346.9 L156.2,346.7 L159.2,346.5 L162.2,346.3 L165.1,346.0 L168.1,345.8 L171.1,345.5 L174.0,345.3 L177.0,345.0 L180.0,344.8 L182.9,344.5 L185.9,344.2 L188.8,343.9 L191.8,343.6 L194.8,343.2 L197.7,342.9 L200.7,342.5 L203.7,342.1 L206.6,341.7 L209.6,341.3 L212.6,340.9 L215.5,340.4 L218.5,340.0 L221.5,339.6 L224.4,339.1 L227.4,338.7 L230.3,338.2 L233.3,337.8 L236.3,337.3 L239.2,336.9 L242.2,336.4 L245.2,335.9 L248.1,335.4 L251.1,334.9 L254.1,334.4 L257.0,333.9 L260.0,333.4 L262.9,333.0 L265.9,332.6 L268.9,332.2 L271.8,331.8 L274.8,331.5 L277.8,331.1 L280.7,330.7 L283.7,330.3 L286.7,329.9 L289.6,329.5 L292.6,329.1 L295.6,328.6 L298.5,328.1 L301.5,327.7 L304.4,327.2 L307.4,326.7 L310.4,326.2 L313.3,325.7 L316.3,325.2 L319.3,324.7 L322.2,324.1 L325.2,323.6 L328.2,323.0 L331.1,322.4 L334.1,321.7 L337.1,321.1 L340.0,320.4 L343.0,319.7 L345.9,318.9 L348.9,318.1 L351.9,317.3 L354.8,316.5 L357.8,315.6 L360.8,314.7 L363.7,313.8 L366.7,312.9 L369.7,311.9 L372.6,310.9 L375.6,309.9 L378.5,308.9 L381.5,307.8 L384.5,306.8 L387.4,305.7 L390.4,304.7 L393.4,303.6 L396.3,302.5 L399.3,301.4 L402.3,300.3 L405.2,299.2 L408.2,298.0 L411.2,296.9 L414.1,295.7 L417.1,294.5 L420.0,293.3 L423.0,292.1 L426.0,290.8 L428.9,289.5 L431.9,288.3 L434.9,287.1 L437.8,285.9 L440.8,284.7 L443.8,283.5 L446.7,282.3 L449.7,281.2 L452.6,280.0 L455.6,278.8 L458.6,277.7 L461.5,276.5 L464.5,275.3 L467.5,274.0 L470.4,272.7 L473.4,271.4 L476.4,270.0 L479.3,268.6 L482.3,267.1 L485.3,265.6 L488.2,264.0 L491.2,262.3 L494.1,260.5 L497.1,258.7 L500.1,256.7 L503.0,254.7 L506.0,252.8" fill="none" stroke="#000" stroke-width="2.1" stroke-linejoin="round"/>
<rect x="94.0" y="11.8" width="412.0" height="339.2" fill="none" stroke="#383838" stroke-width="1.4"/>
<path d="M94.0,351.0h4.5 M506.0,351.0h-4.5 M94.0,302.5h4.5 M506.0,302.5h-4.5 M94.0,254.1h4.5 M506.0,254.1h-4.5 M94.0,205.6h4.5 M506.0,205.6h-4.5 M94.0,157.2h4.5 M506.0,157.2h-4.5 M94.0,108.7h4.5 M506.0,108.7h-4.5 M94.0,60.3h4.5 M506.0,60.3h-4.5 M94.0,11.8h4.5 M506.0,11.8h-4.5" stroke="#000" stroke-opacity="0.35" stroke-width="1" stroke-dasharray="2.5 100" fill="none"/>
<path d="M139.8,351.0v-4.2 M139.8,11.8v4.2 M185.6,351.0v-4.2 M185.6,11.8v4.2 M231.3,351.0v-4.2 M231.3,11.8v4.2 M277.1,351.0v-4.2 M277.1,11.8v4.2 M322.9,351.0v-4.2 M322.9,11.8v4.2 M368.7,351.0v-4.2 M368.7,11.8v4.2 M414.4,351.0v-4.2 M414.4,11.8v4.2 M460.2,351.0v-4.2 M460.2,11.8v4.2 M506.0,351.0v-4.2 M506.0,11.8v4.2" stroke="#333" stroke-width="1.2" fill="none"/>
<text x="88.8" y="364.1" text-anchor="end">0%</text>
<text x="87.8" y="312.5" text-anchor="end">0.5%</text>
<text x="87.8" y="262.8" text-anchor="end">1.0%</text>
<text x="87.8" y="213.8" text-anchor="end">1.5%</text>
<text x="87.8" y="165.5" text-anchor="end">2.0%</text>
<text x="87.8" y="117.4" text-anchor="end">2.5%</text>
<text x="87.8" y="68.9" text-anchor="end">3.0%</text>
<text x="87.8" y="20.6" text-anchor="end">3.5%</text>
<text x="141.2" y="378" text-anchor="middle">100</text>
<text x="230.2" y="378" text-anchor="middle">150</text>
<text x="322.4" y="378" text-anchor="middle">200</text>
<text x="413.9" y="378" text-anchor="middle">250</text>
<text x="504.7" y="378" text-anchor="middle">300</text>
<text x="295.5" y="402.5" text-anchor="middle">LED temperature (K)</text>
<text x="0.8" y="15.3">(a)</text>
<text transform="translate(22.6,189.3) rotate(-90)" text-anchor="middle" font-size="22">Luminescent loss, 1 <tspan dx="-1">−</tspan> <tspan font-style="italic" dx="-1">η</tspan><tspan font-size="15" dy="4">ext</tspan></text>
<text x="113" y="41.5"><tspan font-style="italic">T</tspan><tspan font-size="15" dy="4">h</tspan><tspan dy="-4" dx="-1.2"> =</tspan><tspan dx="1.4"> 313K</tspan></text>
<text x="113" y="67"><tspan font-style="italic">Q</tspan><tspan font-size="15" dy="4">c</tspan><tspan dy="-4" dx="-1.2"> =</tspan><tspan dx="1.4"> 1.0 mW/cm</tspan><tspan font-size="15" dy="-7">2</tspan></text>
<text x="113" y="93.2"><tspan font-style="italic">J</tspan><tspan font-size="15" dy="4">02,300K</tspan><tspan dy="-4" dx="-1.2"> =</tspan><tspan dx="0.4"> 3.5 fA/cm</tspan><tspan font-size="15" dy="-7">2</tspan></text>
<text transform="translate(164.5,269.5) rotate(-13.6)" class="w">contact absorption</text>
<text transform="translate(162.5,324.5) rotate(-13.2)" class="w">free carrier absorption</text>
<text transform="translate(420,230) rotate(-40)" class="w">rear mirror</text>
<text transform="translate(449.5,272) rotate(-28)" class="w">Auger</text>
<text x="431.5" y="323" class="w">SRH</text>
<path d="M458.7,210.6 L456.8,230" stroke="#fff" stroke-width="2.3" fill="none"/><path d="M455.2,238.8 L450.2,226.2 L456.8,229.6 L463.1,227.7 Z" fill="#fff"/>
<rect x="94.0" y="425.2" width="412.0" height="388.59999999999997" fill="none" stroke="#383838" stroke-width="1.4"/>
<path d="M94.0,813.8h4.5 M506.0,813.8h-4.5 M94.0,774.9h4.5 M506.0,774.9h-4.5 M94.0,736.1h4.5 M506.0,736.1h-4.5 M94.0,697.2h4.5 M506.0,697.2h-4.5 M94.0,658.4h4.5 M506.0,658.4h-4.5 M94.0,619.5h4.5 M506.0,619.5h-4.5 M94.0,580.6h4.5 M506.0,580.6h-4.5 M94.0,541.8h4.5 M506.0,541.8h-4.5 M94.0,502.9h4.5 M506.0,502.9h-4.5 M94.0,464.1h4.5 M506.0,464.1h-4.5 M94.0,425.2h4.5 M506.0,425.2h-4.5 M94.0,813.8v-5 M94.0,425.2v5 M114.7,813.8v-2.5 M114.7,425.2v2.5 M126.8,813.8v-2.5 M126.8,425.2v2.5 M135.3,813.8v-2.5 M135.3,425.2v2.5 M142.0,813.8v-2.5 M142.0,425.2v2.5 M147.4,813.8v-2.5 M147.4,425.2v2.5 M152.0,813.8v-2.5 M152.0,425.2v2.5 M156.0,813.8v-2.5 M156.0,425.2v2.5 M159.5,813.8v-2.5 M159.5,425.2v2.5 M162.7,813.8v-5 M162.7,425.2v5 M183.3,813.8v-2.5 M183.3,425.2v2.5 M195.4,813.8v-2.5 M195.4,425.2v2.5 M204.0,813.8v-2.5 M204.0,425.2v2.5 M210.7,813.8v-2.5 M210.7,425.2v2.5 M216.1,813.8v-2.5 M216.1,425.2v2.5 M220.7,813.8v-2.5 M220.7,425.2v2.5 M224.7,813.8v-2.5 M224.7,425.2v2.5 M228.2,813.8v-2.5 M228.2,425.2v2.5 M231.3,813.8v-5 M231.3,425.2v5 M252.0,813.8v-2.5 M252.0,425.2v2.5 M264.1,813.8v-2.5 M264.1,425.2v2.5 M272.7,813.8v-2.5 M272.7,425.2v2.5 M279.3,813.8v-2.5 M279.3,425.2v2.5 M284.8,813.8v-2.5 M284.8,425.2v2.5 M289.4,813.8v-2.5 M289.4,425.2v2.5 M293.3,813.8v-2.5 M293.3,425.2v2.5 M296.9,813.8v-2.5 M296.9,425.2v2.5 M300.0,813.8v-5 M300.0,425.2v5 M320.7,813.8v-2.5 M320.7,425.2v2.5 M332.8,813.8v-2.5 M332.8,425.2v2.5 M341.3,813.8v-2.5 M341.3,425.2v2.5 M348.0,813.8v-2.5 M348.0,425.2v2.5 M353.4,813.8v-2.5 M353.4,425.2v2.5 M358.0,813.8v-2.5 M358.0,425.2v2.5 M362.0,813.8v-2.5 M362.0,425.2v2.5 M365.5,813.8v-2.5 M365.5,425.2v2.5 M368.7,813.8v-5 M368.7,425.2v5 M389.3,813.8v-2.5 M389.3,425.2v2.5 M401.4,813.8v-2.5 M401.4,425.2v2.5 M410.0,813.8v-2.5 M410.0,425.2v2.5 M416.7,813.8v-2.5 M416.7,425.2v2.5 M422.1,813.8v-2.5 M422.1,425.2v2.5 M426.7,813.8v-2.5 M426.7,425.2v2.5 M430.7,813.8v-2.5 M430.7,425.2v2.5 M434.2,813.8v-2.5 M434.2,425.2v2.5 M437.3,813.8v-5 M437.3,425.2v5 M458.0,813.8v-2.5 M458.0,425.2v2.5 M470.1,813.8v-2.5 M470.1,425.2v2.5 M478.7,813.8v-2.5 M478.7,425.2v2.5 M485.3,813.8v-2.5 M485.3,425.2v2.5 M490.8,813.8v-2.5 M490.8,425.2v2.5 M495.4,813.8v-2.5 M495.4,425.2v2.5 M499.3,813.8v-2.5 M499.3,425.2v2.5 M502.9,813.8v-2.5 M502.9,425.2v2.5 M506.0,813.8v-5 M506.0,425.2v5" stroke="#222" stroke-width="1.1" fill="none"/>
<text x="84.3" y="821.1" text-anchor="end">0</text>
<text x="84.3" y="782.2" text-anchor="end">0.1</text>
<text x="84.3" y="743.4" text-anchor="end">0.2</text>
<text x="84.3" y="704.5" text-anchor="end">0.3</text>
<text x="84.3" y="665.7" text-anchor="end">0.4</text>
<text x="84.3" y="626.8" text-anchor="end">0.5</text>
<text x="84.3" y="587.9" text-anchor="end">0.6</text>
<text x="84.3" y="549.1" text-anchor="end">0.7</text>
<text x="84.3" y="510.2" text-anchor="end">0.8</text>
<text x="84.3" y="471.4" text-anchor="end">0.9</text>
<text x="84.3" y="432.5" text-anchor="end">1</text>
<text x="82.6" y="838.8">10<tspan font-size="13.5" dy="-7">-5</tspan></text>
<text x="146.8" y="838.8">10<tspan font-size="13.5" dy="-7">-4</tspan></text>
<text x="216.8" y="838.8">10<tspan font-size="13.5" dy="-7">-3</tspan></text>
<text x="284.8" y="838.8">10<tspan font-size="13.5" dy="-7">-2</tspan></text>
<text x="353.5" y="838.8">10<tspan font-size="13.5" dy="-7">-1</tspan></text>
<text x="426" y="838.8">10<tspan font-size="13.5" dy="-7">0</tspan></text>
<text x="489" y="838.8">10<tspan font-size="13.5" dy="-7">1</tspan></text>
<text x="300.1" y="866.2" text-anchor="middle">Cooling heat flux <tspan font-style="italic">Q</tspan><tspan font-size="15" dy="4">c</tspan><tspan dy="-4"> (W/cm</tspan><tspan font-size="15" dy="-7">2</tspan><tspan dy="7">)</tspan></text>
<text x="1" y="425.8">(b)</text>
<text transform="translate(15.6,623) rotate(-90)" text-anchor="middle">Coefficient of performance</text>
<text transform="translate(40.6,620.2) rotate(-90)" text-anchor="middle">(fraction of Carnot limit)</text>
<text x="497" y="452.4" text-anchor="end"><tspan font-style="italic">T</tspan><tspan font-size="15" dy="4">c</tspan><tspan dy="-4"> = 113K, </tspan><tspan font-style="italic">T</tspan><tspan font-size="15" dy="4">h</tspan><tspan dy="-4" dx="-1.5"> = 313K</tspan></text>
<text x="497" y="476.4" text-anchor="end">COP<tspan font-size="15" dy="4">carnot</tspan><tspan dy="-4"> = 0.565</tspan></text>
<path d="M94.4,499.7 L96.7,500.1 L99.0,500.4 L101.4,500.7 L103.7,501.1 L106.1,501.4 L108.4,501.8 L110.8,502.1 L113.1,502.4 L115.5,502.8 L117.8,503.1 L120.2,503.5 L122.6,503.9 L124.9,504.2 L127.3,504.6 L129.7,504.9 L132.0,505.3 L134.4,505.7 L136.8,506.1 L139.1,506.4 L141.5,506.8 L143.9,507.2 L146.3,507.6 L148.6,508.0 L151.0,508.4 L153.4,508.8 L155.8,509.2 L158.1,509.6 L160.5,510.0 L162.9,510.5 L165.3,510.9 L167.6,511.3 L170.0,511.8 L172.4,512.2 L174.8,512.7 L177.1,513.1 L179.5,513.6 L181.9,514.0 L184.3,514.5 L186.6,515.0 L189.0,515.5 L191.4,516.0 L193.7,516.5 L196.1,517.0 L198.5,517.5 L200.8,518.0 L203.2,518.6 L205.6,519.1 L207.9,519.7 L210.3,520.2 L212.6,520.8 L215.0,521.4 L217.3,521.9 L219.7,522.5 L222.0,523.1 L224.3,523.7 L226.7,524.3 L229.0,525.0 L231.3,525.6 L233.7,526.3 L236.0,526.9 L238.3,527.6 L240.6,528.2 L242.9,528.9 L245.3,529.6 L247.6,530.3 L249.9,531.0 L252.2,531.8 L254.5,532.5 L256.7,533.2 L259.0,534.0 L261.3,534.8 L263.6,535.5 L265.9,536.3 L268.1,537.1 L270.4,537.9 L272.6,538.8 L274.9,539.6 L277.1,540.5 L279.4,541.3 L281.6,542.2 L283.8,543.1 L286.0,544.0 L288.3,544.9 L290.5,545.8 L292.7,546.7 L294.9,547.7 L297.1,548.7 L299.3,549.6 L301.4,550.6 L303.6,551.6 L305.8,552.7 L307.9,553.7 L310.1,554.7 L312.2,555.8 L314.4,556.9 L316.5,558.0 L318.6,559.1 L320.7,560.2 L322.8,561.3 L324.9,562.5 L327.0,563.6 L329.1,564.8 L331.2,566.0 L333.3,567.2 L335.3,568.5 L337.4,569.7 L339.4,571.0 L341.4,572.2 L343.5,573.5 L345.5,574.9 L347.5,576.2 L349.5,577.5 L351.5,578.9 L353.4,580.3 L355.4,581.7 L357.4,583.1 L359.3,584.5 L361.3,586.0 L363.2,587.4 L365.1,588.9 L367.0,590.4 L368.9,591.9 L370.8,593.5 L372.7,595.0 L374.5,596.6 L376.4,598.2 L378.2,599.8 L380.0,601.4 L381.8,603.1 L383.6,604.7 L385.3,606.4 L387.0,608.1 L388.7,609.8 L390.4,611.5 L392.1,613.3 L393.7,615.0 L395.3,616.8 L396.9,618.6 L398.4,620.4 L399.9,622.2 L401.4,624.0 L402.9,625.9 L404.4,627.7 L405.8,629.6 L407.2,631.5 L408.6,633.4 L410.0,635.3 L411.3,637.3 L412.7,639.2 L414.0,641.2 L415.3,643.2 L416.6,645.2 L417.8,647.2 L419.1,649.2 L420.3,651.2 L421.5,653.3 L422.7,655.3 L423.9,657.4 L425.0,659.5 L426.2,661.6 L427.3,663.7 L428.4,665.8 L429.5,668.0 L430.6,670.1 L431.7,672.3 L432.7,674.4 L433.8,676.6 L434.8,678.8 L435.8,681.0 L436.8,683.2 L437.8,685.4 L438.7,687.6 L439.7,689.8 L440.6,692.0 L441.5,694.3 L442.4,696.5 L443.3,698.8 L444.2,701.0 L445.1,703.3 L445.9,705.6 L446.8,707.8 L447.6,710.1 L448.4,712.4 L449.2,714.7 L450.0,717.0 L450.8,719.2 L451.5,721.5 L452.3,723.8 L453.0,726.1 L453.7,728.4 L454.5,730.7 L455.2,733.0 L455.8,735.3 L456.5,737.6 L457.2,739.9 L457.8,742.2 L458.5,744.5 L459.1,746.8 L459.7,749.1" fill="none" stroke="#0072BD" stroke-width="2.9" stroke-dasharray="8.3 6.9"/>
<path d="M94.2,797.9 L96.1,797.4 L98.0,796.8 L99.8,796.2 L101.6,795.4 L103.3,794.7 L105.0,793.9 L106.7,793.0 L108.3,792.1 L109.9,791.1 L111.4,790.1 L112.9,789.0 L114.4,787.9 L115.9,786.8 L117.3,785.6 L118.7,784.4 L120.1,783.1 L121.4,781.9 L122.7,780.5 L124.1,779.2 L125.3,777.8 L126.6,776.5 L127.8,775.1 L129.1,773.6 L130.3,772.2 L131.5,770.7 L132.7,769.3 L133.8,767.8 L135.0,766.3 L136.1,764.8 L137.3,763.3 L138.4,761.8 L139.6,760.3 L140.7,758.8 L141.8,757.3 L142.9,755.8 L144.1,754.2 L145.2,752.7 L146.3,751.2 L147.4,749.7 L148.5,748.1 L149.6,746.6 L150.7,745.1 L151.8,743.6 L152.9,742.0 L154.0,740.5 L155.1,739.0 L156.2,737.4 L157.3,735.9 L158.4,734.4 L159.5,732.9 L160.6,731.4 L161.7,729.8 L162.9,728.3 L164.0,726.8 L165.1,725.3 L166.2,723.8 L167.4,722.3 L168.5,720.8 L169.7,719.3 L170.8,717.8 L172.0,716.4 L173.2,714.9 L174.4,713.4 L175.5,712.0 L176.7,710.5 L178.0,709.0 L179.2,707.6 L180.4,706.2 L181.6,704.8 L182.9,703.3 L184.2,701.9 L185.4,700.5 L186.7,699.1 L188.0,697.8 L189.4,696.4 L190.7,695.1 L192.1,693.7 L193.4,692.4 L194.8,691.2 L196.2,689.9 L197.7,688.7 L199.1,687.5 L200.6,686.3 L202.1,685.2 L203.6,684.2 L205.2,683.1 L206.8,682.1 L208.4,681.2 L210.0,680.3 L211.7,679.5 L213.4,678.7 L215.1,678.0 L216.8,677.3 L218.6,676.7 L220.4,676.2 L222.2,675.7 L224.0,675.3 L225.9,675.0 L227.7,674.7 L229.6,674.6 L231.4,674.5 L233.3,674.5 L235.2,674.5 L237.1,674.7 L239.0,674.9 L240.8,675.1 L242.7,675.5 L244.6,675.9 L246.5,676.4 L248.3,676.9 L250.2,677.4 L252.0,678.1 L253.8,678.7 L255.6,679.4 L257.4,680.2 L259.2,680.9 L261.0,681.8 L262.7,682.6 L264.4,683.5 L266.1,684.4 L267.7,685.3 L269.3,686.2 L270.9,687.2 L272.5,688.2 L274.1,689.3 L275.6,690.4 L277.1,691.5 L278.6,692.6 L280.0,693.8 L281.4,695.0 L282.8,696.2 L284.2,697.5 L285.5,698.8 L286.8,700.1 L288.1,701.5 L289.3,702.8 L290.6,704.3 L291.7,705.7 L292.9,707.2 L294.0,708.7 L295.1,710.2 L296.1,711.8 L297.2,713.4 L298.2,715.0 L299.1,716.6 L300.0,718.3 L300.9,720.0 L301.8,721.7 L302.6,723.5 L303.4,725.2 L304.1,727.0 L304.8,728.8 L305.5,730.6 L306.1,732.4 L306.7,734.2 L307.2,736.1 L307.7,737.9 L308.2,739.8 L308.6,741.7 L309.0,743.5 L309.3,745.4 L309.6,747.3 L309.9,749.2 L310.1,751.1 L310.2,753.0 L310.4,754.9 L310.4,756.8 L310.5,758.7 L310.4,760.5 L310.4,762.4 L310.2,764.3 L310.1,766.1 L309.8,768.0 L309.5,769.8 L309.1,771.6 L308.7,773.5 L308.2,775.3 L307.6,777.0 L307.0,778.8 L306.2,780.5 L305.5,782.2 L304.6,783.9 L303.7,785.6 L302.7,787.2 L301.6,788.7 L300.5,790.3 L299.4,791.7 L298.2,793.1 L296.9,794.5 L295.6,795.8 L294.2,797.0 L292.8,798.1 L291.3,799.2 L289.8,800.2 L288.3,801.2 L286.7,802.0 L285.1,802.8 L283.4,803.6 L281.8,804.3 L280.1,805.0 L278.3,805.6 L276.6,806.2 L274.8,806.7 L273.0,807.3 L271.2,807.8 L269.3,808.3 L267.5,808.7 L265.6,809.1 L263.7,809.5 L261.8,809.9 L259.9,810.2 L258.0,810.5 L256.1,810.8 L254.1,811.1 L252.2,811.4 L250.3,811.6 L248.3,811.8 L246.4,812.0 L244.5,812.2 L242.5,812.3 L240.6,812.5 L238.7,812.6 L236.8,812.7 L234.9,812.8 L233.0,812.9 L231.1,813.0 L229.3,813.1 L227.4,813.1 L225.5,813.2 L223.6,813.2 L221.8,813.2 L219.9,813.3 L218.1,813.3 L216.2,813.3 L214.4,813.3 L212.5,813.3 L210.7,813.3 L208.8,813.3 L207.0,813.3 L205.1,813.3 L203.3,813.3 L201.4,813.3 L199.6,813.3 L197.7,813.3 L195.9,813.3 L194.0,813.3 L192.2,813.3 L190.3,813.4 L188.4,813.4 L186.5,813.4 L184.7,813.4 L182.8,813.4 L180.9,813.5 L179.0,813.5 L177.2,813.5 L175.3,813.5 L173.4,813.6 L171.5,813.6 L169.6,813.6 L167.7,813.7 L165.8,813.7 L164.0,813.7 L162.1,813.8 L160.2,813.8 L158.3,813.8 L156.4,813.9 L154.5,813.9 L152.6,813.9 L150.7,814.0 L148.8,814.0 L146.9,814.0 L145.0,814.1 L143.1,814.1 L141.2,814.1 L139.4,814.2 L137.5,814.2 L135.6,814.2 L133.7,814.2 L131.8,814.2 L129.9,814.3 L128.0,814.3 L126.1,814.3 L124.2,814.3 L122.4,814.3 L120.5,814.3 L118.6,814.3 L116.7,814.3 L114.8,814.3 L113.0,814.3 L111.1,814.3 L109.2,814.3 L107.3,814.2 L105.5,814.2 L103.6,814.2 L101.7,814.2 L99.9,814.1 L98.0,814.1 L96.2,814.0 L94.3,814.0" fill="none" stroke="#0072BD" stroke-width="2.6" stroke-linejoin="round"/>
<path d="M94.2,801.8 L96.1,801.5 L98.0,801.2 L99.8,800.7 L101.6,800.2 L103.4,799.6 L105.1,799.0 L106.8,798.3 L108.4,797.6 L110.0,796.8 L111.6,795.9 L113.2,795.0 L114.7,794.0 L116.2,793.0 L117.7,792.0 L119.1,790.9 L120.5,789.8 L121.9,788.6 L123.3,787.5 L124.7,786.2 L126.0,785.0 L127.3,783.7 L128.6,782.4 L129.9,781.1 L131.2,779.8 L132.4,778.5 L133.7,777.1 L134.9,775.7 L136.1,774.4 L137.3,773.0 L138.5,771.6 L139.7,770.2 L140.9,768.8 L142.1,767.5 L143.2,766.1 L144.4,764.7 L145.6,763.3 L146.7,761.9 L147.8,760.4 L149.0,759.0 L150.1,757.6 L151.3,756.2 L152.4,754.8 L153.5,753.4 L154.7,752.0 L155.8,750.5 L156.9,749.1 L158.0,747.7 L159.2,746.3 L160.3,744.9 L161.4,743.4 L162.6,742.0 L163.7,740.6 L164.8,739.2 L166.0,737.8 L167.1,736.4 L168.3,735.0 L169.5,733.6 L170.6,732.2 L171.8,730.8 L173.0,729.4 L174.2,728.0 L175.4,726.6 L176.6,725.2 L177.8,723.8 L179.0,722.4 L180.3,721.1 L181.5,719.7 L182.8,718.3 L184.1,717.0 L185.3,715.6 L186.6,714.3 L188.0,712.9 L189.3,711.6 L190.6,710.3 L192.0,709.0 L193.4,707.7 L194.7,706.5 L196.1,705.2 L197.5,704.0 L199.0,702.8 L200.4,701.6 L201.9,700.5 L203.3,699.4 L204.8,698.3 L206.3,697.3 L207.8,696.2 L209.4,695.3 L210.9,694.3 L212.5,693.4 L214.1,692.6 L215.7,691.8 L217.3,691.0 L218.9,690.3 L220.5,689.6 L222.2,689.0 L223.9,688.4 L225.6,687.9 L227.3,687.4 L229.0,687.0 L230.8,686.7 L232.5,686.4 L234.3,686.2 L236.1,686.1 L237.9,686.0 L239.8,686.0 L241.6,686.0 L243.5,686.2 L245.3,686.3 L247.2,686.6 L249.0,686.9 L250.9,687.2 L252.7,687.6 L254.6,688.0 L256.4,688.5 L258.2,689.1 L260.0,689.7 L261.7,690.3 L263.4,691.0 L265.1,691.7 L266.8,692.5 L268.5,693.3 L270.1,694.1 L271.7,695.0 L273.3,695.9 L274.8,696.9 L276.4,697.9 L277.9,698.9 L279.3,700.0 L280.8,701.1 L282.2,702.3 L283.5,703.5 L284.9,704.7 L286.2,706.0 L287.5,707.2 L288.7,708.6 L290.0,709.9 L291.1,711.3 L292.3,712.7 L293.4,714.2 L294.5,715.7 L295.5,717.2 L296.6,718.7 L297.5,720.3 L298.5,721.9 L299.4,723.5 L300.3,725.1 L301.1,726.8 L301.9,728.5 L302.7,730.2 L303.4,731.9 L304.0,733.6 L304.7,735.4 L305.3,737.1 L305.8,738.9 L306.3,740.7 L306.8,742.5 L307.2,744.3 L307.6,746.1 L308.0,748.0 L308.3,749.8 L308.5,751.6 L308.7,753.4 L308.9,755.3 L309.0,757.1 L309.0,758.9 L309.0,760.8 L309.0,762.6 L308.9,764.4 L308.8,766.2 L308.5,768.0 L308.3,769.8 L307.9,771.6 L307.5,773.3 L307.1,775.1 L306.5,776.8 L305.9,778.5 L305.2,780.2 L304.5,781.9 L303.7,783.5 L302.8,785.1 L301.8,786.7 L300.8,788.2 L299.8,789.7 L298.7,791.2 L297.5,792.6 L296.3,793.9 L295.0,795.2 L293.7,796.4 L292.3,797.6 L290.9,798.7 L289.5,799.8 L288.0,800.7 L286.5,801.7 L284.9,802.5 L283.3,803.3 L281.7,804.1 L280.1,804.8 L278.4,805.4 L276.7,806.0 L275.0,806.6 L273.3,807.1 L271.5,807.6 L269.7,808.1 L267.9,808.5 L266.1,808.9 L264.3,809.2 L262.5,809.5 L260.6,809.8 L258.8,810.1 L256.9,810.4 L255.1,810.6 L253.2,810.8 L251.3,811.0 L249.4,811.2 L247.6,811.4 L245.7,811.5 L243.8,811.7 L242.0,811.8 L240.1,811.9 L238.2,812.0 L236.4,812.2 L234.6,812.3 L232.7,812.4 L230.9,812.5 L229.1,812.6 L227.3,812.7 L225.4,812.8 L223.6,812.9 L221.8,812.9 L220.0,813.0 L218.2,813.1 L216.4,813.2 L214.6,813.2 L212.8,813.3 L211.0,813.4 L209.2,813.4 L207.4,813.5 L205.6,813.5 L203.8,813.6 L202.1,813.6 L200.2,813.7 L198.4,813.7 L196.6,813.7 L194.8,813.8 L193.0,813.8 L191.2,813.8 L189.4,813.8 L187.6,813.9 L185.8,813.9 L183.9,813.9 L182.1,813.9 L180.3,813.9 L178.5,813.9 L176.6,813.9 L174.8,813.9 L173.0,813.9 L171.1,813.9 L169.3,814.0 L167.5,813.9 L165.6,813.9 L163.8,813.9 L162.0,813.9 L160.1,813.9 L158.3,813.9 L156.5,813.9 L154.6,813.9 L152.8,813.9 L150.9,813.9 L149.1,813.9 L147.3,813.9 L145.4,813.9 L143.6,813.9 L141.7,813.9 L139.9,813.8 L138.1,813.8 L136.2,813.8 L134.4,813.8 L132.5,813.8 L130.7,813.8 L128.9,813.8 L127.0,813.8 L125.2,813.8 L123.4,813.8 L121.5,813.8 L119.7,813.8 L117.9,813.8 L116.1,813.8 L114.2,813.8 L112.4,813.8 L110.6,813.8 L108.8,813.8 L107.0,813.8 L105.1,813.9 L103.3,813.9 L101.5,813.9 L99.7,813.9 L97.9,813.9 L96.1,814.0 L94.3,814.0" fill="none" stroke="#D95319" stroke-width="2.6" stroke-linejoin="round"/>
<text transform="translate(125.3,488.3) rotate(12.7)" class="bl" font-weight="bold">ideal GaAs system</text>
<text transform="translate(137,529.2) rotate(12)" class="bl" font-style="italic">η<tspan font-size="15" dy="4" font-style="normal">ext</tspan><tspan dy="-4" dx="-2.5"> = 100%</tspan></text>
<text transform="translate(113.8,765.5) rotate(-50)" class="bl"><tspan font-style="italic">J</tspan><tspan font-size="15" dy="4">02,300K</tspan><tspan dy="-4" dx="0.8"> =</tspan><tspan dx="-2"> 3.5 fA/cm</tspan><tspan font-size="15" dy="-7">2</tspan></text>
<text transform="translate(151.2,793.3) rotate(-48.5)" class="og">200 fA/cm<tspan font-size="15" dy="-7">2</tspan></text>
<text x="333" y="642" text-anchor="middle" class="sb" font-weight="bold">optimized</text>
<text x="332" y="668.5" text-anchor="middle" class="sb" font-weight="bold">LED</text>
<path d="M324.2,677.5 C323.5,686.5 317.5,694.5 305,697.6" stroke="#2E6DA4" stroke-width="2.5" fill="none"/><path d="M294.3,699.3 L308.4,691.6 L304.6,697.6 L307.8,703.9 Z" fill="#2E6DA4"/>
</svg>
</body></html>
